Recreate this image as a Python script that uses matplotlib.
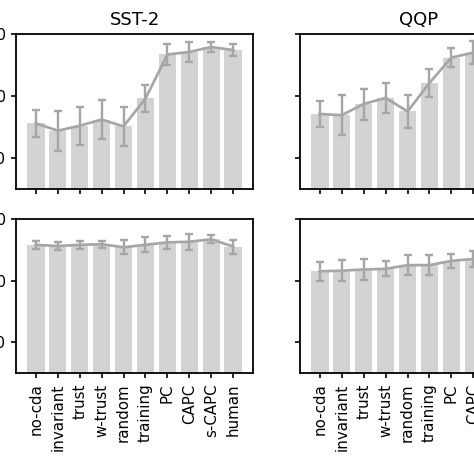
import numpy as np
import matplotlib
matplotlib.use('Agg')
import matplotlib.pyplot as plt

# Methods along the x axis (same for every panel)
methods = ["no-cda", "invariant", "trust", "w-trust", "random",
           "training", "PC", "CAPC", "s-CAPC", "human"]

# Top row: accuracy on the in-domain test sets
sst2_top = [75.6, 74.4, 75.2, 76.2, 75.1, 79.6, 86.7, 87.1, 87.9, 87.4]
sst2_top_err = [2.2, 3.25, 3.05, 3.1, 3.2, 2.2, 1.65, 1.6, 0.75, 1.0]
qqp_top = [77.1, 76.9, 78.7, 79.7, 77.5, 82.1, 86.2, 87.0, 87.5, 88.0]
qqp_top_err = [2.05, 3.25, 2.5, 2.4, 2.6, 2.2, 1.6, 1.8, 1.2, 1.0]

# Bottom row
sst2_bot = [85.8, 85.6, 85.8, 85.9, 85.4, 85.8, 86.2, 86.3, 86.7, 85.5]
sst2_bot_err = [0.68, 0.68, 0.7, 0.6, 1.15, 1.2, 1.1, 1.3, 0.68, 1.15]
qqp_bot = [81.5, 81.6, 81.8, 81.9, 82.5, 82.5, 83.2, 83.5, 83.7, 83.8]
qqp_bot_err = [1.56, 1.75, 1.7, 1.2, 1.6, 1.65, 1.1, 1.3, 1.1, 1.2]

yticks = [70, 80, 90]
titles = ["SST-2", "QQP"]

bar_color = "#d3d3d3"
line_color = "#a6a6a6"

fig = plt.figure(figsize=(474 / 108, 474 / 108), dpi=108)

# axes placed by hand so the crop of the original figure is reproduced
positions = {
    (0, 0): [0.0338, 0.6013, 0.5, 0.327],
    (0, 1): [0.6329, 0.6013, 0.5, 0.327],
    (1, 0): [0.0338, 0.2131, 0.5, 0.325],
    (1, 1): [0.6329, 0.2131, 0.5, 0.325],
}
data = {
    (0, 0): (sst2_top, sst2_top_err),
    (0, 1): (qqp_top, qqp_top_err),
    (1, 0): (sst2_bot, sst2_bot_err),
    (1, 1): (qqp_bot, qqp_bot_err),
}

x = np.arange(len(methods))
for (row, col), pos in positions.items():
    ax = fig.add_axes(pos)
    vals, errs = data[(row, col)]
    ax.bar(x, vals, width=0.8, color=bar_color, zorder=1)
    ax.errorbar(x, vals, yerr=errs, fmt='-', color=line_color, lw=1.8,
                elinewidth=1.6, capsize=2.5, capthick=1.6, zorder=3)
    ax.set_xlim(-0.9, 9.9)
    ax.set_ylim(65, 90)
    ax.set_yticks(yticks)
    ax.set_xticks(x)
    for s in ax.spines.values():
        s.set_linewidth(1.2)
    ax.tick_params(width=1.1)
    if col == 1:
        ax.set_yticklabels([])
    if row == 0:
        ax.set_xticklabels([])
        ax.set_title(titles[col], fontsize=12)
    else:
        ax.set_xticklabels(methods, rotation=90, fontsize=10)

plt.savefig("out.png", dpi=108)
